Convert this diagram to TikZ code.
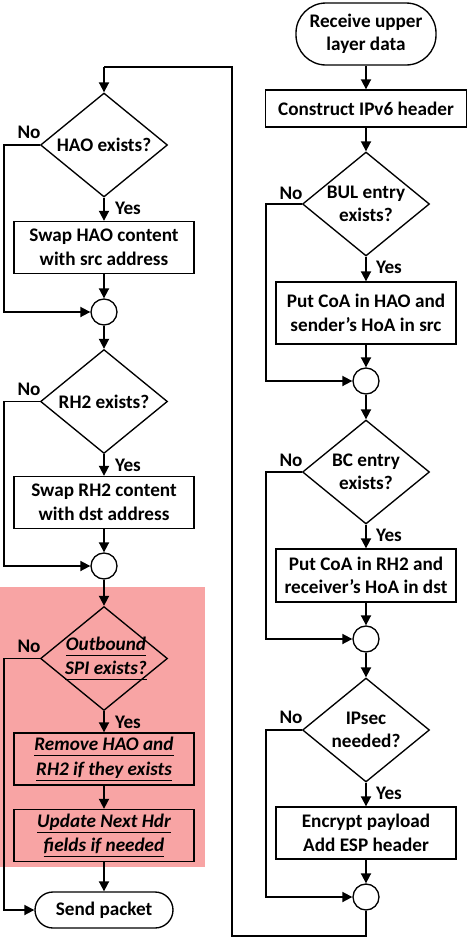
\documentclass[tikz,border=0pt]{standalone}
\usepackage{fontspec}
\setmainfont{Carlito}
\usetikzlibrary{shapes.geometric,arrows.meta}
\definecolor{hl}{RGB}{248,164,164}
\newcommand\myul[1]{\underline{\itshape #1\vphantom{y}}}
\begin{document}
\begin{tikzpicture}[x=1pt,y=-1pt,
  every node/.style={font=\fontsize{19.2}{23.5}\selectfont\bfseries},
  procbox/.style={draw,line width=1.35pt,rectangle,minimum width=180pt,minimum height=52pt,inner sep=0pt,align=center},
  dia/.style={draw,line width=1.35pt,diamond,minimum width=127pt,minimum height=104pt,inner sep=0pt},
  txt/.style={align=center,inner sep=0pt},
  joint/.style={draw,line width=1.35pt,circle,fill=white,minimum size=26pt,inner sep=0pt},
  term/.style={draw,line width=1.35pt,rectangle,inner sep=0pt,align=center,fill=white},
  lab/.style={inner sep=0pt},
  conn/.style={line width=1.8pt,-{Triangle[length=10pt,width=10pt]}},
  plain/.style={line width=1.8pt}]
\useasboundingbox (0,0) rectangle (474,948);
\fill[hl] (0,587) rectangle (205,867);
% left column
\node[dia] (hao) at (104,145) {};
\node[txt] (haot) at (hao) {HAO exists?};
\node[procbox] (swh) at (104,247.5) {Swap HAO content\\with src address};
\node[joint] (j1) at (104,312) {};
\node[dia] (rh2) at (104,401.5) {};
\node[txt] (rh2t) at (rh2) {RH2 exists?};
\node[procbox] (swr) at (104,502.5) {Swap RH2 content\\with dst address};
\node[joint] (j2) at (104,566) {};
\node[dia] (spi) at (104,658.5) {};
\node[txt] (spit) at (106,658.5) {\myul{Outbound}\\[1pt]\myul{SPI exists?}};
\node[procbox] (rem) at (104,759) {\myul{Remove HAO and}\\[1pt]\myul{RH2 if they exists}};
\node[procbox] (upd) at (104,835.5) {\myul{Update Next Hdr}\\[1pt]\myul{fields if needed}};
\node[term,minimum width=138pt,minimum height=36pt,rounded corners=18pt] (send) at (104,910) {Send packet};
% right column
\node[term,minimum width=140pt,minimum height=62pt,rounded corners=30pt] (recv) at (366,34) {Receive upper\\layer data};
\node[procbox,minimum width=201pt,minimum height=37pt] (cons) at (366,108.5) {Construct IPv6 header};
\node[dia] (bul) at (366,204) {};
\node[txt] (bult) at (366,204) {BUL entry\\exists?};
\node[procbox,minimum height=62pt] (pch) at (366,313) {Put CoA in HAO and\\sender’s HoA in src};
\node[joint] (j3) at (366,381) {};
\node[dia] (bc) at (366,472) {};
\node[txt] (bct) at (366,472) {BC entry\\exists?};
\node[procbox,minimum height=53pt] (pcr) at (366,575.5) {Put CoA in RH2 and\\receiver’s HoA in dst};
\node[joint] (j4) at (366,639) {};
\node[dia] (ips) at (366,730) {};
\node[txt] (ipst) at (366,730) {IPsec\\needed?};
\node[procbox] (enc) at (366,833) {Encrypt payload\\Add ESP header};
\node[joint] (j5) at (366,897) {};
% helper coordinates
\coordinate (c1) at (366,936);
\coordinate (c2) at (232,936);
\coordinate (c3) at (232,67);
\coordinate (c4) at (104,67);
% labels
\node[lab] (no1) at (29,132) {No};
\node[lab] (no2) at (29,389) {No};
\node[lab] (no3) at (29,646) {No};
\node[lab] (no4) at (291,193) {No};
\node[lab] (no5) at (291,460) {No};
\node[lab] (no6) at (291,717) {No};
\node[lab] (y1) at (128,208) {Yes};
\node[lab] (y2) at (128,465) {Yes};
\node[lab] (y3) at (128,722) {Yes};
\node[lab] (y4) at (389,267) {Yes};
\node[lab] (y5) at (389,535) {Yes};
\node[lab] (y6) at (389,793) {Yes};
% connectors left
\draw[conn] (c4) -- (hao.north);
\draw[conn] (hao.south) -- (swh.north);
\draw[conn] (swh.south) -- (j1.north);
\draw[conn] (hao.west) -- ++(-36,0) |- (j1.west);
\draw[conn] (j1.south) -- (rh2.north);
\draw[conn] (rh2.south) -- (swr.north);
\draw[conn] (swr.south) -- (j2.north);
\draw[conn] (rh2.west) -- ++(-36,0) |- (j2.west);
\draw[conn] (j2.south) -- (spi.north);
\draw[conn] (spi.south) -- (rem.north);
\draw[conn] (rem.south) -- (upd.north);
\draw[conn] (upd.south) -- (send.north);
\draw[conn] (spi.west) -- ++(-36,0) |- (send.west);
% connectors right
\draw[conn] (recv.south) -- (cons.north);
\draw[conn] (cons.south) -- (bul.north);
\draw[conn] (bul.south) -- (pch.north);
\draw[conn] (pch.south) -- (j3.north);
\draw[conn] (bul.west) -- ++(-36,0) |- (j3.west);
\draw[conn] (j3.south) -- (bc.north);
\draw[conn] (bc.south) -- (pcr.north);
\draw[conn] (pcr.south) -- (j4.north);
\draw[conn] (bc.west) -- ++(-36,0) |- (j4.west);
\draw[conn] (j4.south) -- (ips.north);
\draw[conn] (ips.south) -- (enc.north);
\draw[conn] (enc.south) -- (j5.north);
\draw[conn] (ips.west) -- ++(-36,0) |- (j5.west);
\draw[plain,line join=miter] (j5.south) -- (c1) -- (c2) -- (c3) -- (c4);
\end{tikzpicture}
\end{document}
